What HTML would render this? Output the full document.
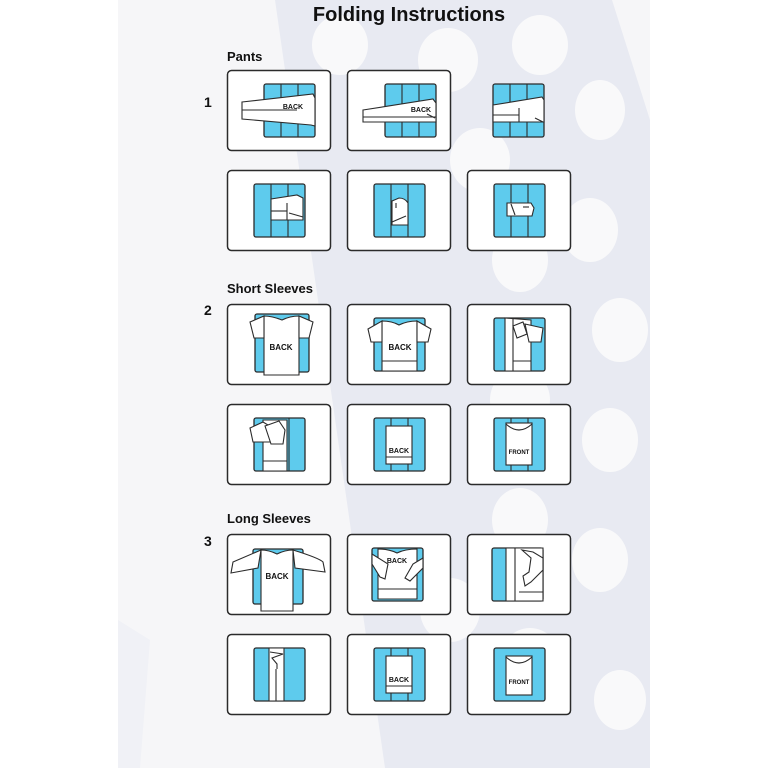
<!DOCTYPE html>
<html><head><meta charset="utf-8">
<style>
html,body{margin:0;padding:0;background:#fff;}
svg{display:block;}
text{font-family:"Liberation Sans",sans-serif;font-weight:bold;}
.b{fill:#fff;stroke:#2b2b2b;stroke-width:1.5;}
.bl{fill:#5ecbed;stroke:#2b2b2b;stroke-width:1.3;}
.w{fill:#fff;stroke:#2b2b2b;stroke-width:1.1;}
.l{fill:none;stroke:#2b2b2b;stroke-width:1.1;}
</style></head><body>
<svg width="768" height="768" viewBox="0 0 768 768" xmlns="http://www.w3.org/2000/svg">
<defs>
  <g id="blue3">
    <rect class="bl" x="27" y="14" width="51" height="53" rx="2"/>
    <line class="l" x1="44" y1="14" x2="44" y2="67"/>
    <line class="l" x1="61" y1="14" x2="61" y2="67"/>
  </g>
</defs>
<!-- background -->
<rect x="118" y="0" width="532" height="768" fill="#f6f6f8"/>
<polygon points="275,0 612,0 650,120 650,768 385,768" fill="#e8eaf2"/>
<g fill="#f9f9fa">
  <ellipse cx="340" cy="45" rx="28" ry="30"/><ellipse cx="448" cy="60" rx="30" ry="32"/>
  <ellipse cx="540" cy="45" rx="28" ry="30"/><ellipse cx="480" cy="160" rx="30" ry="32"/>
  <ellipse cx="600" cy="110" rx="25" ry="30"/><ellipse cx="590" cy="230" rx="28" ry="32"/>
  <ellipse cx="520" cy="260" rx="28" ry="32"/><ellipse cx="620" cy="330" rx="28" ry="32"/>
  <ellipse cx="520" cy="400" rx="30" ry="32"/><ellipse cx="610" cy="440" rx="28" ry="32"/>
  <ellipse cx="600" cy="560" rx="28" ry="32"/><ellipse cx="520" cy="520" rx="28" ry="32"/>
  <ellipse cx="450" cy="610" rx="30" ry="32"/><ellipse cx="530" cy="660" rx="30" ry="32"/>
  <ellipse cx="620" cy="700" rx="26" ry="30"/>
</g>
<polygon points="118,620 150,640 140,768 118,768" fill="#f0f1f6"/>

<text x="409" y="21" font-size="20" text-anchor="middle" fill="#111">Folding Instructions</text>
<text x="227" y="61" font-size="13" fill="#111">Pants</text>
<text x="204" y="107" font-size="14" fill="#111">1</text>
<text x="227" y="293" font-size="13" fill="#111">Short Sleeves</text>
<text x="204" y="315" font-size="14" fill="#111">2</text>
<text x="227" y="523" font-size="13" fill="#111">Long Sleeves</text>
<text x="204" y="546" font-size="14" fill="#111">3</text>

<!-- PANTS row 1 -->
<g transform="translate(227,70)">
  <rect class="b" x="0.5" y="0.5" width="103" height="80" rx="4"/>
  <rect class="bl" x="37" y="14" width="51" height="53" rx="2"/>
  <line class="l" x1="54" y1="14" x2="54" y2="67"/><line class="l" x1="71" y1="14" x2="71" y2="67"/>
  <polygon class="w" points="15,32 86,24 88,28 88,56 84,55 15,49"/>
  <line class="l" x1="15" y1="40" x2="70" y2="40"/>
  <text x="66" y="39" font-size="7" text-anchor="middle" fill="#111">BACK</text>
</g>
<g transform="translate(347,70)">
  <rect class="b" x="0.5" y="0.5" width="103" height="80" rx="4"/>
  <rect class="bl" x="38" y="14" width="51" height="53" rx="2"/>
  <line class="l" x1="55" y1="14" x2="55" y2="67"/><line class="l" x1="72" y1="14" x2="72" y2="67"/>
  <polygon class="w" points="16,40 86,29 89,33 89,52 16,52"/>
  <line class="l" x1="16" y1="47" x2="89" y2="47"/>
  <line class="l" x1="80" y1="44" x2="88" y2="48"/>
  <text x="74" y="42" font-size="7" text-anchor="middle" fill="#111">BACK</text>
</g>
<g transform="translate(467,70)">
  <rect class="bl" x="26" y="14" width="51" height="53" rx="2"/>
  <line class="l" x1="43" y1="14" x2="43" y2="67"/><line class="l" x1="60" y1="14" x2="60" y2="67"/>
  <polygon class="w" points="26,35 75,27 77,30 77,52 26,52"/>
  <line class="l" x1="26" y1="45" x2="52" y2="45"/>
  <line class="l" x1="52" y1="38" x2="52" y2="52"/>
  <line class="l" x1="68" y1="48" x2="76" y2="52"/>
</g>
<!-- PANTS row 2 -->
<g transform="translate(227,170)">
  <rect class="b" x="0.5" y="0.5" width="103" height="80" rx="4"/>
  <use href="#blue3"/>
  <polygon class="w" points="44,29 70,25 76,28 76,50 44,50"/>
  <line class="l" x1="44" y1="41" x2="60" y2="41"/><line class="l" x1="60" y1="33" x2="60" y2="50"/>
  <line class="l" x1="62" y1="43" x2="76" y2="47"/>
</g>
<g transform="translate(347,170)">
  <rect class="b" x="0.5" y="0.5" width="103" height="80" rx="4"/>
  <use href="#blue3"/>
  <path class="w" d="M45,31 L45,55 L61,55 L61,33 Q58,28 52,28 Z"/>
  <line class="l" x1="45" y1="52" x2="59" y2="46"/>
  <line class="l" x1="49" y1="33" x2="49" y2="38"/>
</g>
<g transform="translate(467,170)">
  <rect class="b" x="0.5" y="0.5" width="103" height="80" rx="4"/>
  <use href="#blue3"/>
  <polygon class="w" points="40,33 64,33 67,38 65,46 40,46"/>
  <line class="l" x1="44" y1="34" x2="48" y2="45"/>
  <line class="l" x1="56" y1="37" x2="62" y2="37"/>
</g>

<!-- SHORT SLEEVES row 1 -->
<g transform="translate(227,304)">
  <rect class="b" x="0.5" y="0.5" width="103" height="80" rx="4"/>
  <rect class="bl" x="28" y="10" width="54" height="58" rx="2"/>
  <path class="w" d="M37,12 Q45,12 55,16 Q63,12 72,12 L72,71 L37,71 Z"/>
  <polygon class="w" points="23,18 37,12 37,34 27,34"/>
  <polygon class="w" points="86,18 72,12 72,34 82,34"/>
  <text x="54" y="46" font-size="8" text-anchor="middle" fill="#111">BACK</text>
</g>
<g transform="translate(347,304)">
  <rect class="b" x="0.5" y="0.5" width="103" height="80" rx="4"/>
  <rect class="bl" x="27" y="14" width="51" height="53" rx="2"/>
  <path class="w" d="M35,17 Q45,17 52,21 Q60,17 70,17 L70,67 L35,67 Z"/>
  <line class="l" x1="35" y1="57" x2="70" y2="57"/>
  <polygon class="w" points="21,25 35,17 35,38 24,38"/>
  <polygon class="w" points="84,25 70,17 70,38 81,38"/>
  <text x="53" y="46" font-size="8" text-anchor="middle" fill="#111">BACK</text>
</g>
<g transform="translate(467,304)">
  <rect class="b" x="0.5" y="0.5" width="103" height="80" rx="4"/>
  <rect class="bl" x="27" y="14" width="51" height="53" rx="2"/>
  <polygon class="w" points="38,14 64,16 64,67 38,67"/>
  <line class="l" x1="46" y1="14" x2="46" y2="67"/>
  <line class="l" x1="46" y1="57" x2="64" y2="57"/>
  <polygon class="w" points="46,22 56,18 60,30 50,34"/>
  <polygon class="w" points="58,20 76,24 74,38 62,38"/>
</g>
<!-- SHORT SLEEVES row 2 -->
<g transform="translate(227,404)">
  <rect class="b" x="0.5" y="0.5" width="103" height="80" rx="4"/>
  <rect class="bl" x="27" y="14" width="51" height="53" rx="2"/>
  <polygon class="w" points="36,16 60,16 60,67 36,67"/>
  <line class="l" x1="62" y1="14" x2="62" y2="67"/>
  <line class="l" x1="36" y1="57" x2="60" y2="57"/>
  <polygon class="w" points="23,24 36,18 46,24 43,38 26,38"/>
  <polygon class="w" points="38,22 52,17 58,26 56,40 44,40"/>
</g>
<g transform="translate(347,404)">
  <rect class="b" x="0.5" y="0.5" width="103" height="80" rx="4"/>
  <use href="#blue3"/>
  <rect class="w" x="39" y="22" width="26" height="38"/>
  <line class="l" x1="39" y1="53" x2="65" y2="53"/>
  <text x="52" y="49" font-size="7" text-anchor="middle" fill="#111">BACK</text>
</g>
<g transform="translate(467,404)">
  <rect class="b" x="0.5" y="0.5" width="103" height="80" rx="4"/>
  <use href="#blue3"/>
  <rect class="w" x="39" y="19" width="26" height="42"/>
  <path class="l" d="M39,20 Q52,32 65,20"/>
  <text x="52" y="50" font-size="6" text-anchor="middle" fill="#111">FRONT</text>
</g>

<!-- LONG SLEEVES row 1 -->
<g transform="translate(227,534)">
  <rect class="b" x="0.5" y="0.5" width="103" height="80" rx="4"/>
  <rect class="bl" x="26" y="15" width="50" height="55" rx="2"/>
  <path class="w" d="M34,16 Q42,16 50,20 Q58,16 66,16 L66,77 L34,77 Z"/>
  <path class="w" d="M34,16 L6,28 L4,39 L31,34 Z"/>
  <path class="w" d="M66,16 Q92,24 96,28 L98,38 L68,34 Z"/>
  <text x="50" y="45" font-size="8" text-anchor="middle" fill="#111">BACK</text>
</g>
<g transform="translate(347,534)">
  <rect class="b" x="0.5" y="0.5" width="103" height="80" rx="4"/>
  <rect class="bl" x="25" y="14" width="51" height="53" rx="2"/>
  <path class="w" d="M31,15 Q42,15 50,19 Q58,15 70,15 L70,65 L31,65 Z"/>
  <line class="l" x1="31" y1="55" x2="70" y2="55"/>
  <polygon class="w" points="25,20 41,30 38,45 33,43 25,30"/>
  <polygon class="w" points="76,24 66,30 58,44 63,47 76,34"/>
  <text x="50" y="29" font-size="7" text-anchor="middle" fill="#111">BACK</text>
</g>
<g transform="translate(467,534)">
  <rect class="b" x="0.5" y="0.5" width="103" height="80" rx="4"/>
  <rect class="bl" x="25" y="14" width="51" height="53" rx="2"/>
  <polygon class="w" points="39,14 76,14 76,67 39,67"/>
  <line class="l" x1="48" y1="14" x2="48" y2="67"/>
  <line class="l" x1="52" y1="58" x2="76" y2="58"/>
  <path class="w" d="M55,16 L64,24 L62,38 L56,42 L58,52 L64,48 L76,36 L76,24 L66,18 Z"/>
</g>
<!-- LONG SLEEVES row 2 -->
<g transform="translate(227,634)">
  <rect class="b" x="0.5" y="0.5" width="103" height="80" rx="4"/>
  <rect class="bl" x="27" y="14" width="51" height="53" rx="2"/>
  <polygon class="w" points="42,14 57,14 57,67 42,67"/>
  <line class="l" x1="49" y1="35" x2="49" y2="67"/>
  <polyline class="l" points="43,18 56,20 45,24 50,30 50,35"/>
</g>
<g transform="translate(347,634)">
  <rect class="b" x="0.5" y="0.5" width="103" height="80" rx="4"/>
  <use href="#blue3"/>
  <rect class="w" x="39" y="22" width="26" height="37"/>
  <line class="l" x1="39" y1="52" x2="65" y2="52"/>
  <text x="52" y="48" font-size="7" text-anchor="middle" fill="#111">BACK</text>
</g>
<g transform="translate(467,634)">
  <rect class="b" x="0.5" y="0.5" width="103" height="80" rx="4"/>
  <rect class="bl" x="27" y="14" width="51" height="53" rx="2"/>
  <rect class="w" x="39" y="22" width="26" height="39"/>
  <path class="l" d="M39,23 Q52,35 65,23"/>
  <text x="52" y="50" font-size="6" text-anchor="middle" fill="#111">FRONT</text>
</g>
</svg>
</body></html>
